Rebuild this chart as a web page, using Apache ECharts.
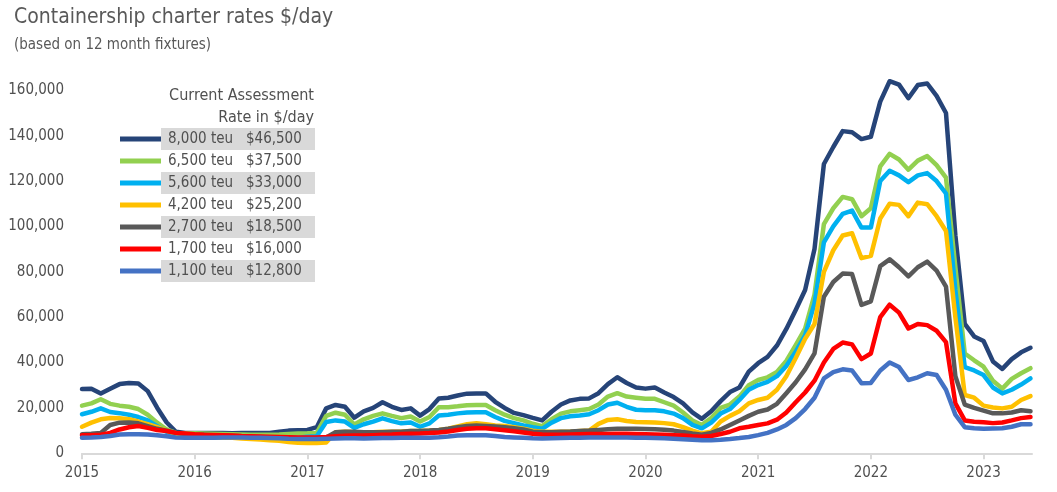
<!DOCTYPE html>
<html>
<head>
<meta charset="utf-8">
<script src="https://cdn.jsdelivr.net/npm/echarts@6/dist/echarts.min.js"></script>
<style>
html, body { margin: 0; padding: 0; background: #fff; }
#chart { width: 1057px; height: 492px; }
</style>
</head>
<body>
<div id="chart"></div>
<script>
// monthly readings Jan 2015 .. Jun 2023, $/day
var firstYear = 2015;
var sizes = ['8,000 teu', '6,500 teu', '5,600 teu', '4,200 teu', '2,700 teu', '1,700 teu', '1,100 teu'];
var rates = ['$46,500', '$37,500', '$33,000', '$25,200', '$18,500', '$16,000', '$12,800'];
var colors = ['#264478', '#92D050', '#00B0F0', '#FFC000', '#595959', '#FF0000', '#4472C4'];
var yTicks = [0, 20000, 40000, 60000, 80000, 100000, 120000, 140000, 160000];
var yearTicks = [2015, 2016, 2017, 2018, 2019, 2020, 2021, 2022, 2023];

var teu8000 = [
  28300, 28500, 26400, 28500, 30500, 31000, 30800, 27400, 20100, 13700, 9500, 9000,
  9000, 9000, 8900, 8900, 8800, 8900, 9000, 9000, 9000, 9500, 10000, 10200,
  10300, 11500, 19800, 21300, 20500, 15700, 18500, 20000, 22500, 20500, 19100, 19800,
  16600, 19500, 24200, 24500, 25500, 26300, 26400, 26400, 22700, 20000, 17800, 16800,
  15600, 14500, 18300, 21500, 23300, 24000, 24200, 26500, 30500, 33500, 31000, 29000,
  28500, 29000, 26800, 24800, 22000, 18000, 15200, 18500, 23000, 27000, 29000, 36000,
  39700, 42500, 47500, 54800, 63200, 72000, 90000, 127500, 135000, 142000, 141500, 138500,
  139500, 155000, 164000, 162500, 156500, 162300, 163000, 157500, 150000, 96000, 57000, 51500,
  49500, 40500, 37200, 41500, 44500, 46500
];
var teu6500 = [
  21000, 22000, 23800, 21800, 21000, 20500, 19500, 17000, 13500, 10500, 9000, 8800,
  8800, 8700, 8600, 8500, 8400, 8300, 8200, 8200, 8200, 8300, 8500, 8700,
  8800, 9000, 16500, 17900, 17000, 12700, 15000, 16500, 17600, 16500, 15500, 16200,
  14000, 16000, 20300, 20300, 20700, 21200, 21300, 21300, 19000, 17000, 15500, 14500,
  13000, 12000, 15000, 17500, 18500, 19000, 19500, 21500, 25000, 26500, 25000, 24500,
  24000, 24000, 22500, 21000, 18000, 14500, 12500, 15500, 20000, 21500, 25000, 30000,
  32300, 33500, 35800, 40700, 47700, 55000, 70000, 101000, 108000, 113000, 112000, 104500,
  108000, 126500, 132000, 129500, 125000, 129000, 131000, 127000, 121500, 82000, 44000, 41000,
  38200, 32000, 28500, 32800, 35300, 37500
];
var teu5600 = [
  17200, 18300, 19800, 18200, 17700, 17000, 16000, 14500, 12000, 9500, 7800, 7300,
  7300, 7100, 7000, 7000, 7000, 6900, 6900, 6900, 6800, 6800, 6800, 6900,
  7300, 7500, 13800, 14500, 14000, 11200, 12800, 14000, 15400, 14200, 13200, 13600,
  11700, 13200, 16700, 17000, 17600, 18000, 18100, 18100, 16000, 14300, 13300, 12300,
  11500, 10800, 13500, 15500, 16300, 16700, 17200, 19000, 21500, 22300, 20500, 19200,
  19000, 19000, 18500, 17500, 15500, 12500, 11000, 13500, 17500, 19500, 23500, 28000,
  30100, 31500, 34000, 38500, 44800, 52000, 66000, 93000, 100000, 105500, 107000, 99500,
  99500, 120000, 124500, 122500, 119500, 122500, 123500, 120000, 114500, 72000, 38000, 36500,
  34500, 29000, 26400, 28000, 30300, 33000
];
var teu4200 = [
  11700, 13500, 15000, 15600, 15400, 15000, 14000, 12800, 11500, 10000, 8500, 8000,
  7800, 7500, 7200, 7000, 6800, 6500, 6300, 6100, 5800, 5500, 5000, 4600,
  4500, 4500, 4800, 9300, 9500, 9300, 9300, 9300, 9500, 9500, 9600, 9800,
  9800, 10000, 10300, 10800, 11800, 12800, 13200, 12800, 12300, 12000, 11500, 10800,
  10000, 9500, 9500, 9500, 9500, 9800, 10000, 13000, 14700, 15000, 14200, 13800,
  13700, 13600, 13300, 12800, 11500, 10000, 8800, 9500, 14000, 16500, 18500, 22000,
  23500, 24500, 28000, 34000, 42000, 50500, 57000, 80000, 89500, 96000, 97000, 86000,
  87000, 103500, 110000, 109500, 104500, 110500, 109800, 104500, 98000, 60000, 25700, 24500,
  21000, 20200, 19800, 20500, 23500, 25200
];
var teu2700 = [
  8400, 8600, 9000, 12500, 13500, 13600, 13200, 12000, 10800, 10000, 9000, 8500,
  8300, 8200, 8000, 7900, 7700, 7500, 7300, 7200, 7000, 6900, 6700, 6500,
  6500, 6500, 7000, 9300, 9500, 9500, 9300, 9300, 9300, 9500, 9500, 9800,
  9800, 10000, 10300, 10800, 11500, 12000, 12200, 12000, 11800, 11500, 11000, 10500,
  9500, 9300, 9300, 9500, 9600, 9800, 10000, 10300, 10600, 10800, 10800, 10800,
  10700, 10600, 10400, 10000, 9400, 8700, 8200, 9000, 10500, 12500, 14500, 16500,
  18300, 19300, 21800, 26500, 31300, 37000, 44000, 69000, 75500, 79200, 79000, 65400,
  67000, 82500, 85500, 82000, 78000, 82000, 84500, 80500, 73500, 34000, 21500, 20000,
  18800, 17600, 17600, 18000, 19000, 18500
];
var teu1700 = [
  8000, 8000, 8200, 9000, 10500, 11500, 12000, 11200, 10300, 9800, 9000, 8700,
  8400, 8200, 8100, 8000, 7800, 7600, 7500, 7400, 7300, 7200, 7100, 7000,
  7000, 7000, 7200, 7500, 7700, 7800, 7800, 8000, 8200, 8300, 8500, 8600,
  8700, 8900, 9200, 9600, 10300, 10800, 11000, 11000, 10600, 10200, 9700, 9200,
  8600, 8300, 8200, 8200, 8300, 8400, 8500, 8500, 8500, 8600, 8600, 8500,
  8400, 8300, 8200, 8000, 7800, 7500, 7300, 7600, 8500, 9500, 11000, 11700,
  12500, 13200, 14800, 18000, 22500, 26800, 32000, 40000, 46000, 48800, 48000, 41500,
  44000, 60000, 65500, 62000, 55000, 57000, 56500, 54000, 49000, 22000, 14500, 13900,
  13700, 13300, 13600, 14500, 15500, 16000
];
var teu1100 = [
  6900, 7000, 7200, 7600, 8300, 8400, 8400, 8300, 8000, 7500, 7000, 6900,
  6800, 6800, 6900, 7000, 7000, 7000, 6900, 6800, 6700, 6600, 6400, 6300,
  6300, 6300, 6400, 6500, 6600, 6600, 6500, 6600, 6700, 6700, 6800, 6800,
  6800, 6900, 7100, 7400, 7800, 8000, 8000, 8000, 7600, 7200, 7000, 6800,
  6600, 6500, 6600, 6700, 6800, 6900, 7000, 7000, 7000, 7000, 7000, 6900,
  6800, 6700, 6600, 6400, 6200, 6000, 5800, 5800, 6000, 6300, 6700, 7200,
  8000, 9000, 10500, 12500, 15500, 19500, 24500, 33000, 35800, 37000, 36500, 30900,
  31000, 36500, 40000, 38000, 32300, 33500, 35300, 34500, 28000, 17000, 11500, 11000,
  10800, 10900, 11000, 11700, 12800, 12800
];

var FONT = '"Liberation Sans Narrow", "DejaVu Sans Condensed", sans-serif';
var TXT = '#505050';

var myChart = echarts.init(document.getElementById('chart'));

var allData = [teu8000, teu6500, teu5600, teu4200, teu2700, teu1700, teu1100];
var series = allData.map(function (arr, k) {
	return {
		name: sizes[k],
		type: 'line',
		symbol: 'none',
		lineStyle: { width: 4.5, color: colors[k], cap: 'round', join: 'round' },
		itemStyle: { color: colors[k] },
		data: arr.map(function (v, i) { return [firstYear + i / 12, v]; })
	};
});

// grey bands behind every other legend row
var bands = [];
for (var k = 0; k < sizes.length; k += 2) {
	bands.push({
		type: 'rect', z: 0,
		shape: { x: 161, y: 128 + 22 * k, width: 154, height: 22 },
		style: { fill: '#d9d9d9' }
	});
}

option = {
	animation: false,
	title: [
		{ text: 'Containership charter rates $/day', left: 14, top: 7, padding: 0,
		  textStyle: { fontFamily: FONT, fontSize: 21, fontWeight: 'normal', color: '#595959' } },
		{ text: '(based on 12 month fixtures)', left: 14, top: 38, padding: 0,
		  textStyle: { fontFamily: FONT, fontSize: 15, fontWeight: 'normal', color: '#595959' } }
	],
	graphic: bands.concat([
		{ type: 'text', x: 314, y: 96, z: 5,
		  style: { text: 'Current Assessment', font: '16px ' + FONT, fill: TXT,
		           align: 'right', verticalAlign: 'middle', textAlign: 'right', textVerticalAlign: 'middle' } },
		{ type: 'text', x: 314, y: 118, z: 5,
		  style: { text: 'Rate in $/day', font: '16px ' + FONT, fill: TXT,
		           align: 'right', verticalAlign: 'middle', textAlign: 'right', textVerticalAlign: 'middle' } }
	]),
	legend: {
		orient: 'vertical',
		left: 120,
		top: 128,
		padding: 0,
		itemGap: 0,
		itemWidth: 41,
		itemHeight: 5,
		icon: 'rect',
		z: 10,
		selectedMode: false,
		data: sizes,
		formatter: function (name) {
			return '{a|' + name + '}{b|' + rates[sizes.indexOf(name)] + '}';
		},
		textStyle: {
			fontFamily: FONT, fontSize: 15, color: TXT, lineHeight: 22,
			rich: {
				a: { fontFamily: FONT, fontSize: 15, color: TXT, width: 78, height: 22, padding: [0, 0, 0, 2] },
				b: { fontFamily: FONT, fontSize: 15, color: TXT, height: 22 }
			}
		}
	},
	grid: { left: 82, right: 25, top: 67.6, bottom: 38.7 },
	xAxis: {
		type: 'value',
		min: 2015,
		max: 2023.43,
		interval: 1,
		splitLine: { show: false },
		axisLine: { lineStyle: { color: '#d9d9d9', width: 2 } },
		axisTick: { show: true, length: 6, customValues: yearTicks, lineStyle: { color: '#d9d9d9', width: 2 } },
		axisLabel: {
			customValues: yearTicks, margin: 12,
			fontFamily: FONT, fontSize: 15, color: TXT,
			formatter: function (v) { return String(Math.round(v)); }
		}
	},
	yAxis: {
		type: 'value',
		min: 0,
		max: 170000,
		interval: 20000,
		splitLine: { show: false },
		axisLine: { show: false },
		axisTick: { show: false },
		axisLabel: {
			customValues: yTicks, margin: 18,
			fontFamily: FONT, fontSize: 15, color: TXT,
			formatter: function (v) { return v.toLocaleString('en-US'); }
		}
	},
	series: series
};

myChart.setOption(option);
</script>
</body>
</html>
